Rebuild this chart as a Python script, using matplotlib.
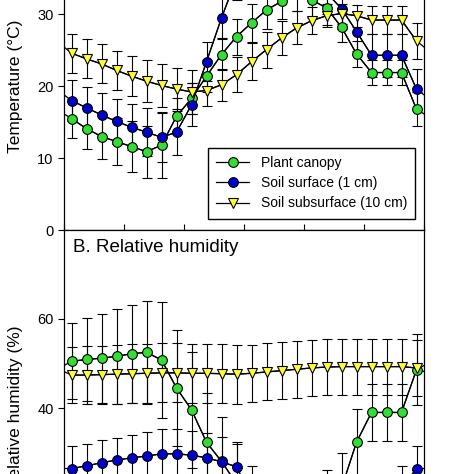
import matplotlib
matplotlib.use("Agg")
import matplotlib.pyplot as plt
import numpy as np

plt.rcParams['font.family'] = ['Liberation Sans', 'DejaVu Sans']

hours = np.arange(24) + 0.5

temp_canopy = [15.5, 14.1, 13.0, 12.3, 11.6, 10.9, 11.8, 15.8, 18.3, 21.4, 24.4, 26.9,
               28.8, 30.6, 31.8, 33.0, 32.0, 30.9, 28.2, 24.5, 21.9, 21.9, 21.9, 16.8]
temp_canopy_err = [2.7, 2.9, 3.1, 3.3, 3.5, 3.6, 4.5, 2.5, 2.2, 2.2, 2.2, 2.5,
                   2.6, 2.6, 2.5, 2.5, 2.5, 2.4, 2.0, 1.8, 1.7, 1.7, 1.7, 2.4]
temp_surface = [18.0, 17.0, 16.0, 15.1, 14.3, 13.6, 12.9, 13.6, 17.4, 23.4, 29.5, 35.0,
                37.0, 37.5, 37.0, 36.0, 35.0, 33.0, 30.8, 27.6, 24.3, 24.3, 24.3, 19.6]
temp_surface_err = [2.8, 2.9, 3.0, 3.1, 3.2, 3.3, 3.5, 3.2, 3.0, 2.7, 2.8, 3.0,
                    3.0, 3.0, 3.0, 3.0, 3.0, 3.0, 2.8, 2.7, 3.0, 3.0, 3.0, 2.8]
temp_sub = [24.6, 23.8, 23.1, 22.2, 21.4, 20.7, 20.1, 19.6, 19.2, 19.4, 20.2, 21.6,
            23.4, 25.1, 26.7, 28.1, 29.1, 29.8, 30.1, 29.8, 29.2, 29.2, 29.2, 26.3]
temp_sub_err = [2.7, 2.7, 2.7, 2.7, 2.8, 2.9, 3.0, 3.0, 3.0, 2.2, 2.2, 2.4,
                2.6, 2.5, 2.4, 2.3, 1.9, 1.6, 1.4, 1.5, 1.9, 1.9, 1.9, 2.5]

rh_canopy = [50.5, 50.9, 51.2, 51.6, 52.2, 52.5, 50.8, 44.5, 39.6, 32.3, 28.0, 23.0,
             19.0, 17.0, 16.0, 16.0, 16.5, 18.0, 22.0, 32.3, 39.0, 39.0, 39.0, 48.6]
rh_canopy_err = [8.5, 9.3, 10.0, 10.6, 11.0, 11.5, 13.0, 13.0, 13.0, 11.0, 10.0, 9.0,
                 8.0, 7.5, 7.5, 7.5, 8.0, 8.0, 8.0, 7.5, 6.5, 6.5, 6.5, 8.0]
rh_surface = [26.4, 27.0, 27.7, 28.3, 28.8, 29.2, 29.7, 29.7, 29.4, 28.8, 27.9, 26.8,
              20.0, 15.0, 12.0, 11.0, 11.0, 12.0, 14.0, 16.0, 18.0, 20.0, 22.0, 26.4]
rh_surface_err = [5.0, 5.0, 5.0, 5.0, 5.2, 5.5, 5.5, 5.5, 5.5, 5.5, 5.5, 5.5,
                  5.0, 5.0, 5.0, 5.0, 5.0, 5.0, 5.0, 5.0, 5.0, 5.0, 5.0, 5.0]
rh_sub = [47.4, 47.4, 47.5, 47.6, 47.7, 47.8, 47.9, 47.9, 47.8, 47.8, 47.7, 47.6,
          47.8, 48.1, 48.4, 48.7, 49.0, 49.2, 49.3, 49.3, 49.3, 49.3, 49.3, 49.0]
rh_sub_err = [6.2, 6.5, 6.5, 6.6, 6.6, 6.6, 6.6, 6.6, 6.6, 6.6, 6.6, 6.6,
              6.4, 6.4, 6.4, 6.4, 6.3, 6.3, 6.3, 6.3, 6.3, 6.3, 6.3, 6.3]

fig = plt.figure(figsize=(4.74, 4.74), dpi=100)
axA = fig.add_axes([64/474, 1-230/474, 360/474, 287.6/474])
axB = fig.add_axes([64/474, 1-586/474, 360/474, 356/474])

styles = [
    dict(marker='o', mfc='#33dd33', label='Plant canopy'),
    dict(marker='o', mfc='#0000cc', label='Soil surface (1 cm)'),
    dict(marker='v', mfc='#ffff33', label='Soil subsurface (10 cm)'),
]

def wrap(x, y):
    xs = np.concatenate([[x[0]-1], x, [x[-1]+1]])
    ys = np.concatenate([[y[-1]], y, [y[0]]])
    return xs, ys

def draw(ax, series):
    handles = []
    for (vals, errs), st in zip(series, styles):
        xs, ys = wrap(hours, np.array(vals))
        ax.plot(xs, ys, color='black', lw=0.9, zorder=2)
        ax.errorbar(hours, vals, yerr=errs, fmt='none', ecolor='black', elinewidth=0.8,
                    capsize=3.5, capthick=0.8, zorder=2)
        h, = ax.plot(hours, vals, linestyle='-', color='black', lw=0.9, marker=st['marker'],
                     mfc=st['mfc'], mec='black', mew=0.8, markersize=7, label=st['label'], zorder=3)
        handles.append(h)
    return handles

hA = draw(axA, [(temp_canopy, temp_canopy_err), (temp_surface, temp_surface_err), (temp_sub, temp_sub_err)])
draw(axB, [(rh_canopy, rh_canopy_err), (rh_surface, rh_surface_err), (rh_sub, rh_sub_err)])

for ax in (axA, axB):
    ax.set_xlim(0, 24)
    ax.set_xticks(np.arange(0, 25, 4))
    ax.tick_params(axis='x', direction='in', length=4, labelbottom=False)
    ax.tick_params(axis='y', direction='out', length=4, labelsize=10.5)
    for s in ax.spines.values():
        s.set_linewidth(0.9)

axA.set_ylim(0, 40)
axA.set_yticks([0, 10, 20, 30, 40])
axA.set_ylabel('Temperature (°C)', fontsize=12.5)
axA.yaxis.set_label_coords(-0.115, 0.5)
axA.legend(handles=hA, loc='lower right', bbox_to_anchor=(0.995, 0.015), fontsize=10,
           frameon=True, fancybox=False, edgecolor='black', framealpha=1, handlelength=2.4,
           borderpad=0.6, labelspacing=0.45)

axB.set_ylim(0, 80)
axB.set_yticks([0, 20, 40, 60])
axB.set_ylabel('Relative humidity (%)', fontsize=12.5)
axB.yaxis.set_label_coords(-0.115, 0.5)
axB.text(0.025, 0.975, 'B. Relative humidity', transform=axB.transAxes, fontsize=13.5, va='top')

fig.savefig('out.png', dpi=100)
